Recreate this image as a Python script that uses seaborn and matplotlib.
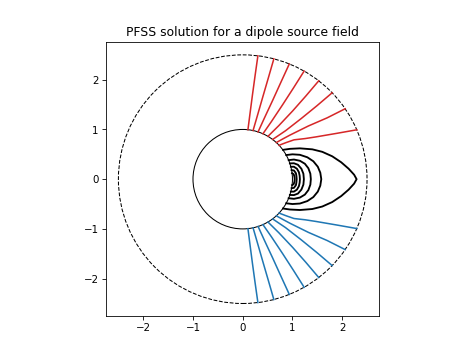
import matplotlib
matplotlib.use("Agg")
import matplotlib.pyplot as plt
import matplotlib.patches as mpatch
import numpy as np
import seaborn as sns

# open field lines, positive polarity (north)
red_x = [
    [0.105, 0.143, 0.195, 0.249, 0.305],
    [0.208, 0.292, 0.403, 0.515, 0.626],
    [0.309, 0.434, 0.604, 0.770, 0.937],
    [0.407, 0.580, 0.803, 1.021, 1.235],
    [0.508, 0.727, 1.004, 1.270, 1.529],
    [0.602, 0.861, 1.181, 1.493, 1.798],
    [0.676, 0.813, 0.951, 1.321, 1.699, 2.060],
    [0.731, 0.881, 1.031, 1.258, 1.472, 1.887, 2.294],
]
red_y = [
    [0.995, 1.292, 1.689, 2.085, 2.481],
    [0.978, 1.267, 1.652, 2.036, 2.420],
    [0.951, 1.225, 1.589, 1.954, 2.318],
    [0.914, 1.163, 1.498, 1.835, 2.174],
    [0.862, 1.078, 1.372, 1.673, 1.978],
    [0.799, 0.974, 1.223, 1.477, 1.737],
    [0.737, 0.813, 0.887, 1.070, 1.234, 1.416],
    [0.682, 0.739, 0.791, 0.817, 0.850, 0.921, 0.993],
]

# open field lines, negative polarity (south)
blue_x = [
    [0.105, 0.143, 0.195, 0.249, 0.305],
    [0.208, 0.292, 0.403, 0.515, 0.626],
    [0.309, 0.434, 0.604, 0.770, 0.937],
    [0.407, 0.580, 0.803, 1.021, 1.235],
    [0.508, 0.727, 1.004, 1.270, 1.529],
    [0.602, 0.861, 1.181, 1.493, 1.798],
    [0.676, 0.813, 0.951, 1.321, 1.699, 2.060],
    [0.731, 0.881, 1.031, 1.258, 1.472, 1.887, 2.294],
]
blue_y = [
    [-0.995, -1.292, -1.689, -2.085, -2.481],
    [-0.978, -1.267, -1.652, -2.036, -2.420],
    [-0.951, -1.225, -1.589, -1.954, -2.318],
    [-0.914, -1.163, -1.498, -1.835, -2.174],
    [-0.862, -1.078, -1.372, -1.673, -1.978],
    [-0.799, -0.974, -1.223, -1.477, -1.737],
    [-0.737, -0.813, -0.887, -1.070, -1.234, -1.416],
    [-0.682, -0.739, -0.791, -0.817, -0.850, -0.921, -0.993],
]

# closed loops
black_x = [
    [0.81, 0.95, 1.15, 1.40, 1.60, 1.80, 1.98, 2.13, 2.24, 2.29,
     2.24, 2.13, 1.98, 1.80, 1.60, 1.40, 1.15, 0.95, 0.81],
    [0.875, 1.00, 1.15, 1.30, 1.42, 1.51, 1.56, 1.58,
     1.56, 1.51, 1.42, 1.30, 1.15, 1.00, 0.875],
    [0.924, 1.03, 1.15, 1.25, 1.32, 1.36, 1.37,
     1.36, 1.32, 1.25, 1.15, 1.03, 0.924],
    [0.948, 1.03, 1.11, 1.18, 1.22, 1.23, 1.22, 1.18, 1.11, 1.03, 0.948],
    [0.968, 1.03, 1.09, 1.13, 1.145, 1.15, 1.145, 1.13, 1.09, 1.03, 0.968],
    [0.983, 1.03, 1.07, 1.08, 1.085, 1.08, 1.07, 1.03, 0.983],
    [0.993, 1.025, 1.04, 1.045, 1.04, 1.025, 0.993],
]
black_y = [
    [0.59, 0.61, 0.62, 0.60, 0.55, 0.46, 0.34, 0.21, 0.09, 0.0,
     -0.09, -0.21, -0.34, -0.46, -0.55, -0.60, -0.62, -0.61, -0.59],
    [0.485, 0.50, 0.49, 0.44, 0.36, 0.25, 0.13, 0.0,
     -0.13, -0.25, -0.36, -0.44, -0.49, -0.50, -0.485],
    [0.383, 0.395, 0.37, 0.31, 0.22, 0.11, 0.0,
     -0.11, -0.22, -0.31, -0.37, -0.395, -0.383],
    [0.317, 0.32, 0.29, 0.21, 0.11, 0.0, -0.11, -0.21, -0.29, -0.32, -0.317],
    [0.25, 0.25, 0.21, 0.14, 0.07, 0.0, -0.07, -0.14, -0.21, -0.25, -0.25],
    [0.182, 0.175, 0.12, 0.06, 0.0, -0.06, -0.12, -0.175, -0.182],
    [0.12, 0.10, 0.05, 0.0, -0.05, -0.10, -0.12],
]

r_sun = 1.0
r_ss = 2.5

fig, ax = plt.subplots(figsize=(6.4, 4.8), dpi=74)
ax.set_aspect('equal')

groups = [(red_x, red_y, 'tab:red', 1.5), (blue_x, blue_y, 'tab:blue', 1.5),
          (black_x, black_y, 'black', 1.8)]
for xs, ys, col, lw in groups:
    for lx, ly in zip(xs, ys):
        sns.lineplot(x=np.array(lx), y=np.array(ly), sort=False, estimator=None,
                     color=col, linewidth=lw, ax=ax)

ax.add_patch(mpatch.Circle((0, 0), r_sun, color='k', fill=False))
ax.add_patch(mpatch.Circle((0, 0), r_ss, color='k', linestyle='--', fill=False))
ax.set_xlim(-2.75, 2.75)
ax.set_ylim(-2.75, 2.75)
ax.set_title('PFSS solution for a dipole source field')

fig.savefig('out.png')
